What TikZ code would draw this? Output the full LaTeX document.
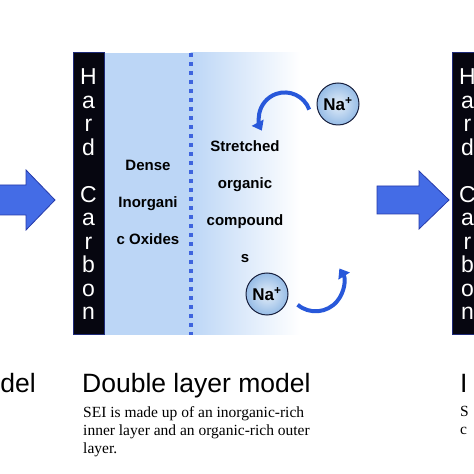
\documentclass[tikz,border=0pt]{standalone}
\usepackage{fontspec}
\setmainfont{Liberation Serif}
\setsansfont{Liberation Sans}
\usetikzlibrary{arrows.meta, positioning}
\definecolor{panelblue}{RGB}{188, 214, 246}
\definecolor{dotblue}{RGB}{62, 100, 222}
\definecolor{arrowblue}{RGB}{68, 108, 230}
\definecolor{arrowedge}{RGB}{38, 58, 170}
\definecolor{hopblue}{RGB}{40, 88, 218}
\definecolor{stripblack}{RGB}{6, 6, 16}
\definecolor{stripnavy}{RGB}{30, 42, 120}
\definecolor{ionblue}{RGB}{150, 188, 230}
\definecolor{ionedge}{RGB}{22, 30, 60}

\begin{document}
\begin{tikzpicture}[
    x=1pt, y=1pt,
    carbon/.style={fill=stripblack, draw=stripnavy, line width=1pt},
    carbonletter/.style={anchor=base, inner sep=0pt, text=white, font=\sffamily\fontsize{23}{23}\selectfont},
    layertext/.style={align=center, inner sep=0pt, font=\sffamily\bfseries\fontsize{15}{37}\selectfont},
    ion/.style={circle, draw=ionedge, line width=1pt, inner color=white!75!ionblue, outer color=ionblue, minimum size=42pt, inner sep=0pt, font=\sffamily\bfseries\fontsize{17}{17}\selectfont},
    hop/.style={-{Triangle[length=9pt, width=13pt]}, line width=4pt, hopblue},
    bigarrow/.style={fill=arrowblue, draw=arrowedge, line width=0.8pt},
    paneltitle/.style={inner sep=0pt, font=\sffamily\fontsize{26.5}{30}\selectfont},
    desc/.style={align=left, inner sep=0pt, font=\fontsize{15.5}{18}\selectfont}
]
\useasboundingbox (0,0) rectangle (474,474);
\clip (0,0) rectangle (474,474);

% === Capa doble ===
\fill[panelblue] (104,139) rectangle (190.5,421);
\shade[left color=panelblue, right color=white] (190.5,139) rectangle (300,421);
\draw[carbon] (73,139) rectangle (104,421);
\draw[dotblue, line width=4pt, dash pattern=on 4pt off 5pt] (190.5,421) -- (190.5,139);

% Hard Carbon (vertical)
\foreach \ch/\k in {H/0, a/1, r/2, d/3, C/5, a/6, r/7, b/8, o/9, n/10}
    \node[carbonletter] (hcl\k) at (88.5, 389-23.5*\k) {\ch};

% Textos de las capas
\node[layertext] (inner) at (148,272) {Dense\\Inorgani\\c Oxides};
\node[layertext] (outer) at (245,272) {Stretched\\organic\\compound\\s};

% Iones y saltos
\node[ion] (naTop) at (338,370) {Na\textsuperscript{+}};
\node[ion] (naBot) at (267,180) {Na\textsuperscript{+}};
\draw[hop] ([xshift=-8pt]naTop.195) arc[start angle=20, end angle=208, radius=26pt];
\draw[hop] ([xshift=12pt]naBot.330) arc[start angle=230, end angle=392, radius=28pt];

% === Flechas entre paneles ===
\draw[bigarrow] (-5,259) -- (26,259) -- (26,244) -- (55,274) -- (26,304) -- (26,289) -- (-5,289) -- cycle;
\draw[bigarrow] (377,260) -- (419,260) -- (419,245) -- (449,274) -- (419,303) -- (419,288) -- (377,288) -- cycle;

% === Panel siguiente (cortado) ===
\draw[carbon] (452,139) rectangle (492,421);
\foreach \ch/\k in {H/0, a/1, r/2, d/3, C/5, a/6, r/7, b/8, o/9, n/10}
    \node[carbonletter] (hcr\k) at (467.5, 389-23.5*\k) {\ch};

% === Titulos ===
\node[paneltitle, anchor=base east] (prevtitle) at (36,81.5) {del};
\node[paneltitle, anchor=base west] (dltitle) at (82,81.5) {Double layer model};
\node[paneltitle, anchor=base west] (nexttitle) at (460,81.5) {I};
\node[desc, anchor=north west] (dldesc) at (83,67.5) {SEI is made up of an inorganic-rich\\inner layer and an organic-rich outer\\layer.};
\node[desc, anchor=north west] (nextdesc) at (460,67.5) {S\\c};

\end{tikzpicture}
\end{document}
